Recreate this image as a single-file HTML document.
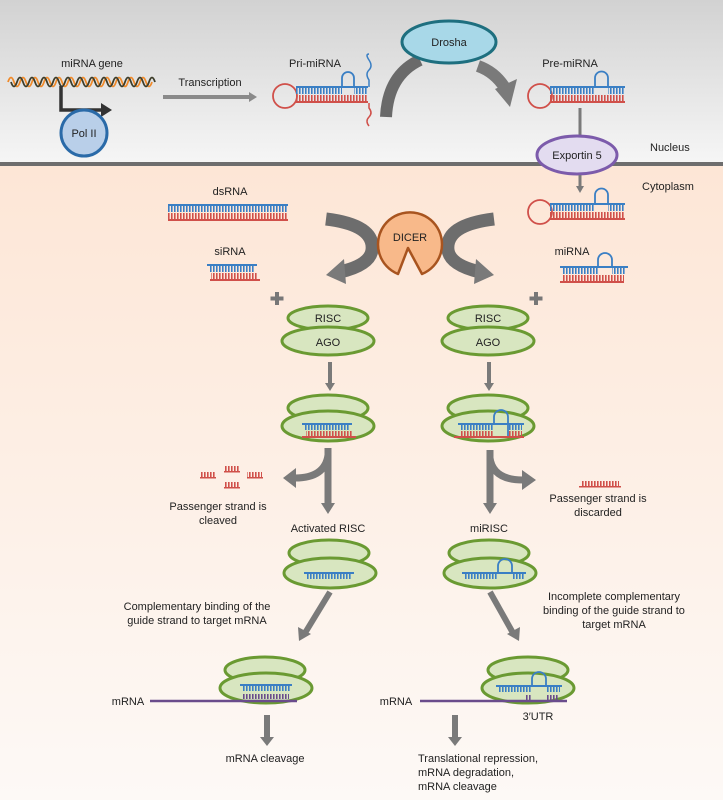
<!DOCTYPE html>
<html><head><meta charset="utf-8"><style>
html,body{margin:0;padding:0;width:723px;height:800px;overflow:hidden}
svg{display:block}
text{font-family:"Liberation Sans",sans-serif;font-size:11px;fill:#222}
</style></head><body>
<svg width="723" height="800" viewBox="0 0 723 800" xmlns="http://www.w3.org/2000/svg">
<defs>
<linearGradient id="gn" x1="0" y1="0" x2="0" y2="1"><stop offset="0" stop-color="#d2d2d2"/><stop offset="1" stop-color="#f6f6f6"/></linearGradient>
<linearGradient id="gc" x1="0" y1="0" x2="0" y2="1"><stop offset="0" stop-color="#fde6d6"/><stop offset="1" stop-color="#fdf9f6"/></linearGradient>
<pattern id="bt" width="3" height="10" patternUnits="userSpaceOnUse"><rect width="1.6" height="10" fill="#3a7fc4"/></pattern>
<pattern id="rt" width="3" height="10" patternUnits="userSpaceOnUse"><rect width="1.6" height="10" fill="#d0504a"/></pattern>
<pattern id="pt" width="3" height="10" patternUnits="userSpaceOnUse"><rect width="1.6" height="10" fill="#6a4c8c"/></pattern>
</defs>
<rect x="0" y="0" width="723" height="164" fill="url(#gn)"/>
<rect x="0" y="164" width="723" height="636" fill="url(#gc)"/>
<rect x="0" y="162" width="723" height="4" fill="#6e6e6e"/>

<path d="M8,82 q3,-9 6,0 t6,0 t6,0 t6,0 t6,0 t6,0 t6,0 t6,0 t6,0 t6,0 t6,0 t6,0 t6,0 t6,0 t6,0 t6,0 t6,0 t6,0 t6,0 t6,0 t6,0 t6,0 t6,0 t6,0" fill="none" stroke="#f08a2a" stroke-width="1.8"/>
<path d="M11,82 q3,9 6,0 t6,0 t6,0 t6,0 t6,0 t6,0 t6,0 t6,0 t6,0 t6,0 t6,0 t6,0 t6,0 t6,0 t6,0 t6,0 t6,0 t6,0 t6,0 t6,0 t6,0 t6,0 t6,0 t6,0" fill="none" stroke="#3d3d2a" stroke-width="1.8"/>
<text x="92" y="67" text-anchor="middle">miRNA gene</text>
<path d="M61,86 V110 H103" fill="none" stroke="#333" stroke-width="3.5"/>
<path d="M101,103 L112,110 L101,117 z" fill="#333"/>
<circle cx="84" cy="133" r="23" fill="#b9cfe9" stroke="#2a6aa8" stroke-width="3"/>
<text x="84" y="137" text-anchor="middle">Pol II</text>

<text x="210" y="86" text-anchor="middle">Transcription</text>
<line x1="163" y1="97" x2="250" y2="97" stroke="#8a8a8a" stroke-width="4"/>
<path d="M249,92 L257,97 L249,102 z" fill="#8a8a8a"/>

<text x="315" y="67" text-anchor="middle">Pri-miRNA</text>
<circle cx="285" cy="96" r="12" fill="none" stroke="#d0504a" stroke-width="1.8"/>
<g transform="translate(296,86)">
<rect x="0" y="0" width="72" height="2" fill="#3a7fc4"/><rect x="0" y="2" width="46" height="6" fill="url(#bt)"/><rect x="58" y="2" width="14" height="6" fill="url(#bt)"/>
<rect x="0" y="9" width="72" height="6" fill="url(#rt)"/><rect x="0" y="15" width="72" height="2" fill="#d0504a"/>
<path d="M46,1 V-8 a6,6 0 0 1 12,0 V1" fill="none" stroke="#3a7fc4" stroke-width="1.8"/>
</g>
<path d="M369,87 V80 q-4,-6 0,-10 t0,-10 t0,-6" fill="none" stroke="#3a7fc4" stroke-width="1.5"/>
<path d="M369,103 V108 q4,5 0,9 t0,9" fill="none" stroke="#d0504a" stroke-width="1.5"/>

<path d="M386,117 Q388,75 420,60" fill="none" stroke="#6a6a6a" stroke-width="12"/>
<path d="M478,66 Q495,72 505,88" fill="none" stroke="#7a7a7a" stroke-width="12"/>
<path d="M495,89 L517,79 L510,107 z" fill="#7a7a7a"/>
<ellipse cx="449" cy="42" rx="47" ry="21" fill="#a8d8e8" stroke="#1e6f7f" stroke-width="3"/>
<text x="449" y="46" text-anchor="middle">Drosha</text>

<text x="570" y="67" text-anchor="middle">Pre-miRNA</text>
<circle cx="540" cy="96" r="12" fill="none" stroke="#d0504a" stroke-width="1.8"/>
<g transform="translate(550,86)">
<rect x="0" y="0" width="75" height="2" fill="#3a7fc4"/><rect x="0" y="2" width="45" height="6" fill="url(#bt)"/><rect x="58" y="2" width="17" height="6" fill="url(#bt)"/>
<rect x="0" y="9" width="75" height="6" fill="url(#rt)"/><rect x="0" y="15" width="75" height="2" fill="#d0504a"/>
<path d="M45,1 V-8 a6.5,6.5 0 0 1 13,0 V1" fill="none" stroke="#3a7fc4" stroke-width="1.8"/>
</g>
<line x1="580" y1="108" x2="580" y2="138" stroke="#7a7a7a" stroke-width="3"/>
<ellipse cx="577" cy="155" rx="40" ry="19" fill="#e3dcf0" stroke="#7c5bab" stroke-width="3"/>
<text x="577" y="159" text-anchor="middle">Exportin 5</text>
<text x="650" y="151">Nucleus</text>
<text x="642" y="190">Cytoplasm</text>
<line x1="580" y1="175" x2="580" y2="187" stroke="#7a7a7a" stroke-width="3"/>
<path d="M576,186 L580,193 L584,186 z" fill="#7a7a7a"/>

<circle cx="540" cy="212" r="12" fill="none" stroke="#d0504a" stroke-width="1.8"/>
<g transform="translate(550,203)">
<rect x="0" y="0" width="75" height="2" fill="#3a7fc4"/><rect x="0" y="2" width="45" height="6" fill="url(#bt)"/><rect x="58" y="2" width="17" height="6" fill="url(#bt)"/>
<rect x="0" y="9" width="75" height="6" fill="url(#rt)"/><rect x="0" y="15" width="75" height="2" fill="#d0504a"/>
<path d="M45,1 V-8 a6.5,6.5 0 0 1 13,0 V1" fill="none" stroke="#3a7fc4" stroke-width="1.8"/>
</g>

<text x="230" y="195" text-anchor="middle">dsRNA</text>
<g transform="translate(168,204)">
<rect width="120" height="2" fill="#3a7fc4"/><rect y="2" width="120" height="6" fill="url(#bt)"/>
<rect y="9" width="120" height="6" fill="url(#rt)"/><rect y="15" width="120" height="2" fill="#d0504a"/>
</g>
<text x="230" y="255" text-anchor="middle">siRNA</text>
<g transform="translate(207,264)">
<rect width="50" height="2" fill="#3a7fc4"/><rect x="2" y="2" width="46" height="6" fill="url(#bt)"/>
<rect x="4" y="9" width="46" height="6" fill="url(#rt)"/><rect x="3" y="15" width="50" height="2" fill="#d0504a"/>
</g>

<text x="572" y="255" text-anchor="middle">miRNA</text>
<g transform="translate(560,266)">
<rect x="0" y="0" width="68" height="2" fill="#3a7fc4"/><rect x="2" y="2" width="36" height="6" fill="url(#bt)"/><rect x="52" y="2" width="14" height="6" fill="url(#bt)"/>
<rect x="2" y="9" width="62" height="6" fill="url(#rt)"/><rect x="0" y="15" width="64" height="2" fill="#d0504a"/>
<path d="M38,1 V-6 a7,7 0 0 1 14,0 V1" fill="none" stroke="#3a7fc4" stroke-width="1.8"/>
</g>

<path d="M326,219 Q375,225 372,250 Q370,265 340,272" fill="none" stroke="#6d6d6d" stroke-width="13"/>
<path d="M344,259 L326,275 L346,284 z" fill="#7a7a7a"/>
<path d="M494,219 Q445,225 448,250 Q450,265 480,272" fill="none" stroke="#6d6d6d" stroke-width="13"/>
<path d="M476,259 L494,275 L474,284 z" fill="#7a7a7a"/>
<path d="M408,248 L398,274 A32,32 0 1 1 422,274 z" fill="#f8b98a" stroke="#a8541f" stroke-width="2.5" stroke-linejoin="round"/>
<text x="410" y="241" text-anchor="middle">DICER</text>

<path d="M277,292 V305 M270.5,298.5 H283.5" stroke="#777" stroke-width="4"/>
<path d="M536,292 V305 M529.5,298.5 H542.5" stroke="#777" stroke-width="4"/>

<g fill="#d8e6c0" stroke="#6a9a32" stroke-width="3">
<ellipse cx="328" cy="318" rx="40" ry="12"/><ellipse cx="328" cy="341" rx="46" ry="14"/>
<ellipse cx="488" cy="318" rx="40" ry="12"/><ellipse cx="488" cy="341" rx="46" ry="14"/>
</g>
<text x="328" y="322" text-anchor="middle">RISC</text><text x="328" y="346" text-anchor="middle">AGO</text>
<text x="488" y="322" text-anchor="middle">RISC</text><text x="488" y="346" text-anchor="middle">AGO</text>

<g stroke="#7a7a7a" stroke-width="4"><line x1="330" y1="362" x2="330" y2="384"/><line x1="489" y1="362" x2="489" y2="384"/></g>
<path d="M325,383 L330,391 L335,383 z M484,383 L489,391 L494,383 z" fill="#7a7a7a"/>

<g fill="#d8e6c0" stroke="#6a9a32" stroke-width="3">
<ellipse cx="328" cy="408" rx="40" ry="13"/><ellipse cx="328" cy="426" rx="46" ry="15"/>
<ellipse cx="488" cy="408" rx="40" ry="13"/><ellipse cx="488" cy="426" rx="46" ry="15"/>
</g>
<g transform="translate(302,423)">
<rect width="50" height="2" fill="#3a7fc4"/><rect x="2" y="2" width="46" height="5" fill="url(#bt)"/>
<rect x="4" y="8" width="46" height="5" fill="url(#rt)"/><rect x="0" y="13" width="54" height="2" fill="#d0504a"/>
</g>
<g transform="translate(458,423)">
<rect width="66" height="2" fill="#3a7fc4"/><rect x="2" y="2" width="34" height="5" fill="url(#bt)"/><rect x="50" y="2" width="14" height="5" fill="url(#bt)"/>
<rect x="2" y="8" width="34" height="5" fill="url(#rt)"/><rect x="50" y="8" width="14" height="5" fill="url(#rt)"/><rect x="-4" y="13" width="70" height="2" fill="#d0504a"/>
<path d="M36,1 V-6 a7,7 0 0 1 14,0 V13" fill="none" stroke="#3a7fc4" stroke-width="1.8"/>
</g>

<g fill="none" stroke="#7a7a7a" stroke-width="7">
<path d="M328,448 V505"/><path d="M328,455 Q325,478 295,478"/>
<path d="M490,450 V505"/><path d="M490,458 Q493,480 523,480"/>
</g>
<path d="M321,503 L328,514 L335,503 z M483,503 L490,514 L497,503 z" fill="#7a7a7a"/>
<path d="M296,468 L283,478 L296,488 z M522,470 L536,480 L522,490 z" fill="#7a7a7a"/>

<g fill="url(#rt)"><rect x="200" y="472" width="15" height="5"/><rect x="225" y="466" width="15" height="5"/><rect x="247" y="472" width="15" height="5"/><rect x="225" y="482" width="15" height="5"/><rect x="581" y="481" width="38" height="5"/></g>
<g fill="#d0504a"><rect x="200" y="477" width="16" height="1.5"/><rect x="224" y="471" width="16" height="1.5"/><rect x="247" y="477" width="16" height="1.5"/><rect x="224" y="487" width="16" height="1.5"/><rect x="579" y="486" width="42" height="1.5"/></g>
<text x="218" y="510" text-anchor="middle">Passenger strand is</text>
<text x="218" y="524" text-anchor="middle">cleaved</text>
<text x="598" y="502" text-anchor="middle">Passenger strand is</text>
<text x="598" y="516" text-anchor="middle">discarded</text>
<text x="328" y="532" text-anchor="middle">Activated RISC</text>
<text x="489" y="532" text-anchor="middle">miRISC</text>

<g fill="#d8e6c0" stroke="#6a9a32" stroke-width="3">
<ellipse cx="329" cy="553" rx="40" ry="13"/><ellipse cx="330" cy="573" rx="46" ry="15"/>
<ellipse cx="489" cy="553" rx="40" ry="13"/><ellipse cx="490" cy="573" rx="46" ry="15"/>
</g>
<g transform="translate(304,572)"><rect width="50" height="2" fill="#3a7fc4"/><rect x="2" y="2" width="46" height="5" fill="url(#bt)"/></g>
<g transform="translate(462,572)"><rect width="64" height="2" fill="#3a7fc4"/><rect x="2" y="2" width="34" height="5" fill="url(#bt)"/><rect x="50" y="2" width="12" height="5" fill="url(#bt)"/>
<path d="M36,1 V-6 a7,7 0 0 1 14,0 V1" fill="none" stroke="#3a7fc4" stroke-width="1.8"/></g>

<text x="197" y="610" text-anchor="middle">Complementary binding of the</text>
<text x="197" y="624" text-anchor="middle">guide strand to target mRNA</text>
<text x="614" y="600" text-anchor="middle">Incomplete complementary</text>
<text x="614" y="614" text-anchor="middle">binding of the guide strand to</text>
<text x="614" y="628" text-anchor="middle">target mRNA</text>

<g stroke="#7a7a7a" stroke-width="6"><line x1="330" y1="592" x2="305" y2="633"/><line x1="490" y1="592" x2="513" y2="633"/></g>
<path d="M298,627 L299,641 L311,634 z M507,634 L519,641 L520,627 z" fill="#7a7a7a"/>

<g fill="#d8e6c0" stroke="#6a9a32" stroke-width="3">
<ellipse cx="265" cy="670" rx="40" ry="13"/><ellipse cx="266" cy="688" rx="46" ry="15"/>
<ellipse cx="528" cy="670" rx="40" ry="13"/><ellipse cx="528" cy="688" rx="46" ry="15"/>
</g>
<line x1="150" y1="701" x2="297" y2="701" stroke="#6a4c8c" stroke-width="2.5"/>
<line x1="420" y1="701" x2="567" y2="701" stroke="#6a4c8c" stroke-width="2.5"/>
<g transform="translate(240,684)"><rect width="52" height="2" fill="#3a7fc4"/><rect x="2" y="2" width="48" height="5" fill="url(#bt)"/><rect x="3" y="10" width="46" height="5" fill="url(#pt)"/></g>
<g transform="translate(496,685)"><rect width="66" height="2" fill="#3a7fc4"/><rect x="2" y="2" width="34" height="5" fill="url(#bt)"/><rect x="50" y="2" width="14" height="5" fill="url(#bt)"/>
<path d="M36,1 V-6 a7,7 0 0 1 14,0 V1" fill="none" stroke="#3a7fc4" stroke-width="1.8"/>
<rect x="30" y="10" width="6" height="5" fill="url(#pt)"/><rect x="50" y="10" width="12" height="5" fill="url(#pt)"/></g>
<text x="128" y="705" text-anchor="middle">mRNA</text>
<text x="396" y="705" text-anchor="middle">mRNA</text>
<text x="538" y="720" text-anchor="middle">3′UTR</text>

<g stroke="#7a7a7a" stroke-width="6"><line x1="267" y1="715" x2="267" y2="738"/><line x1="455" y1="715" x2="455" y2="738"/></g>
<path d="M260,737 L267,746 L274,737 z M448,737 L455,746 L462,737 z" fill="#7a7a7a"/>
<text x="265" y="762" text-anchor="middle">mRNA cleavage</text>
<text x="418" y="762">Translational repression,</text>
<text x="418" y="776">mRNA degradation,</text>
<text x="418" y="790">mRNA cleavage</text>
</svg>
</body></html>
